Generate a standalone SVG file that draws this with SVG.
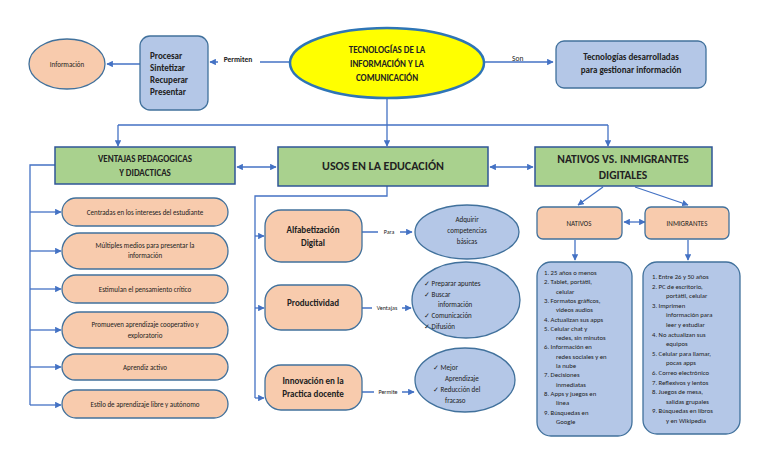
<svg xmlns="http://www.w3.org/2000/svg" width="768" height="466" viewBox="0 0 768 466">
<defs>
<marker id="a" viewBox="0 0 10 10" refX="9" refY="5" markerWidth="5" markerHeight="5" orient="auto-start-reverse"><path d="M0,0L10,5L0,10z" fill="#4472C4"/></marker>
<style>
text{font-family:Calibri,"Liberation Sans",sans-serif;fill:#222}
.c{stroke:#4472C4;stroke-width:1.3;fill:none}
.p{fill:#F8CBAD;stroke:#41719C;stroke-width:1.3}
.b{fill:#B4C7E7;stroke:#41719C;stroke-width:1.3}
.g{fill:#A9D18E;stroke:#2F5597;stroke-width:1.5}
.m{font-size:9px;font-weight:bold}
.l{font-size:7px}
.t{font-size:6.7px}
</style>
</defs>
<rect width="768" height="466" fill="#fff"/>
<g id="connectors">
<path class="c" d="M290,62H210" marker-end="url(#a)"/>
<path class="c" d="M140,64H107" marker-end="url(#a)"/>
<path class="c" d="M484,62H553" marker-end="url(#a)"/>
<path class="c" d="M387,98V125M118,125H608"/>
<path class="c" d="M118,125V146" marker-end="url(#a)"/>
<path class="c" d="M387,125V146" marker-end="url(#a)"/>
<path class="c" d="M608,125V146" marker-end="url(#a)"/>
<path class="c" d="M237,167H276" marker-start="url(#a)" marker-end="url(#a)"/>
<path class="c" d="M490,167H533" marker-start="url(#a)" marker-end="url(#a)"/>
<path class="c" d="M55,165H30V405"/>
<path class="c" d="M30,212H61" marker-end="url(#a)"/><path class="c" d="M30,251H61" marker-end="url(#a)"/><path class="c" d="M30,289H61" marker-end="url(#a)"/><path class="c" d="M30,330H61" marker-end="url(#a)"/><path class="c" d="M30,367H61" marker-end="url(#a)"/><path class="c" d="M30,405H61" marker-end="url(#a)"/>
<path class="c" d="M387,186V196H255V398"/>
<path class="c" d="M255,236H264" marker-end="url(#a)"/><path class="c" d="M255,308H264" marker-end="url(#a)"/><path class="c" d="M255,398H264" marker-end="url(#a)"/>
<path class="c" d="M362,232H412" marker-end="url(#a)"/>
<path class="c" d="M362,308H411" marker-end="url(#a)"/>
<path class="c" d="M362,392H414" marker-end="url(#a)"/>
<path class="c" d="M603,187L578,205" marker-end="url(#a)"/>
<path class="c" d="M635,187L688,205" marker-end="url(#a)"/>
<path class="c" d="M624,222H645" marker-start="url(#a)" marker-end="url(#a)"/>
<path class="c" d="M575,240V260" marker-end="url(#a)"/>
<path class="c" d="M688,240V260" marker-end="url(#a)"/>
</g>
<g id="labels">
<rect x="218" y="53" width="42" height="12" fill="#fff"/><text x="238" y="62" font-weight="bold" font-size="7.5px" text-anchor="middle">Permiten</text>
<text x="512" y="61" font-size="7.5px">Son</text>
<rect x="378" y="227" width="22" height="10" fill="#fff"/><text x="389" y="234" text-anchor="middle" font-size="6px">Para</text>
<rect x="372" y="303" width="30" height="10" fill="#fff"/><text x="387" y="310" text-anchor="middle" font-size="6px">Ventajas</text>
<rect x="374" y="387" width="28" height="10" fill="#fff"/><text x="388" y="394" text-anchor="middle" font-size="6px">Permite</text>
</g>
<g id="info"><ellipse cx="67" cy="64" rx="38" ry="25" class="p"/><text x="67" y="67" text-anchor="middle" class="l">Información</text></g>
<g id="procesar"><rect x="140" y="36" width="68" height="74" rx="10" class="b"/>
<text x="150" y="59" class="m">Procesar</text><text x="150" y="71" class="m">Sintetizar</text><text x="150" y="83" class="m">Recuperar</text><text x="150" y="95" class="m">Presentar</text></g>
<g id="tic"><ellipse cx="387" cy="63" rx="97" ry="35" fill="#FFFF00" stroke="#2E75B6" stroke-width="2.5"/>
<text x="387" y="53" text-anchor="middle" class="m" font-size="8.5px">TECNOLOGÍAS DE LA</text><text x="387" y="67" text-anchor="middle" class="m" font-size="8.5px">INFORMACIÓN Y LA</text><text x="387" y="81" text-anchor="middle" class="m" font-size="8.5px">COMUNICACIÓN</text></g>
<g id="tecdes"><rect x="556" y="41" width="150" height="47" rx="8" class="b"/>
<text x="631" y="60" text-anchor="middle" class="m">Tecnologías desarrolladas</text><text x="631" y="73" text-anchor="middle" class="m">para gestionar información</text></g>
<g id="ventajas"><rect x="55" y="147" width="180" height="37" class="g"/><text x="145" y="162" text-anchor="middle" class="m">VENTAJAS PEDAGOGICAS</text><text x="145" y="176" text-anchor="middle" class="m">Y DIDACTICAS</text></g>
<g id="usos"><rect x="278" y="147" width="210" height="39" class="g"/><text x="383" y="170" text-anchor="middle" font-size="12px" font-weight="bold">USOS EN LA EDUCACIÓN</text></g>
<g id="nativosvs"><rect x="535" y="147" width="177" height="39" class="g"/><text x="623" y="163" text-anchor="middle" font-size="11.5px" font-weight="bold">NATIVOS VS. INMIGRANTES</text><text x="623" y="179" text-anchor="middle" font-size="11.5px" font-weight="bold">DIGITALES</text></g>
<g id="v1"><rect x="62" y="198" width="166" height="28" rx="14" class="p"/><text x="145" y="215" text-anchor="middle" class="l">Centradas en los intereses del estudiante</text></g>
<g id="v2"><rect x="62" y="233" width="166" height="36" rx="18" class="p"/><text x="145" y="248" text-anchor="middle" class="l">Múltiples medios para presentar la</text><text x="145" y="258" text-anchor="middle" class="l">información</text></g>
<g id="v3"><rect x="62" y="275" width="166" height="28" rx="14" class="p"/><text x="145" y="292" text-anchor="middle" class="l">Estimulan el pensamiento crítico</text></g>
<g id="v4"><rect x="62" y="312" width="166" height="36" rx="18" class="p"/><text x="145" y="327" text-anchor="middle" class="l">Promueven aprendizaje cooperativo y</text><text x="145" y="338" text-anchor="middle" class="l">exploratorio</text></g>
<g id="v5"><rect x="62" y="354" width="166" height="26" rx="13" class="p"/><text x="145" y="370" text-anchor="middle" class="l">Aprendiz activo</text></g>
<g id="v6"><rect x="62" y="390" width="166" height="28" rx="14" class="p"/><text x="145" y="407" text-anchor="middle" class="l">Estilo de aprendizaje libre y autónomo</text></g>
<g id="alfa"><rect x="265" y="210" width="97" height="52" rx="16" class="p"/><text x="313" y="233" text-anchor="middle" class="m">Alfabetización</text><text x="313" y="246" text-anchor="middle" class="m">Digital</text></g>
<g id="prod"><rect x="265" y="285" width="97" height="45" rx="16" class="p"/><text x="313" y="306" text-anchor="middle" class="m">Productividad</text></g>
<g id="innov"><rect x="265" y="365" width="97" height="45" rx="16" class="p"/><text x="313" y="384" text-anchor="middle" class="m">Innovación en la</text><text x="313" y="397" text-anchor="middle" class="m">Practica docente</text></g>
<g id="adq"><ellipse cx="467" cy="232" rx="52" ry="27" class="b"/><text x="467" y="222" text-anchor="middle" class="l">Adquirir</text><text x="467" y="233" text-anchor="middle" class="l">competencias</text><text x="467" y="244" text-anchor="middle" class="l">básicas</text></g>
<g id="prep"><ellipse cx="466" cy="300" rx="54" ry="38" class="b"/>
<text x="424" y="286" class="l">✓   Preparar apuntes</text><text x="424" y="297" class="l">✓   Buscar</text><text x="438" y="307" class="l">información</text><text x="424" y="318" class="l">✓   Comunicación</text><text x="424" y="329" class="l">✓   Difusión</text></g>
<g id="mejor"><ellipse cx="465" cy="380" rx="50" ry="32" class="b"/>
<text x="433" y="370" class="l">✓  Mejor</text><text x="445" y="381" class="l">Aprendizaje</text><text x="433" y="392" class="l">✓  Reducción del</text><text x="445" y="403" class="l">fracaso</text></g>
<g id="nativos"><rect x="537" y="207" width="85" height="32" rx="6" class="p"/><text x="579" y="226" text-anchor="middle" class="l">NATIVOS</text></g>
<g id="inmig"><rect x="645" y="207" width="84" height="32" rx="6" class="p"/><text x="687" y="226" text-anchor="middle" class="l">INMIGRANTES</text></g>
<g id="nlist" class="t"><rect x="537" y="262" width="95" height="174" rx="14" class="b"/>
<text x="544" y="275">1.  25 años o menos</text><text x="544" y="284.3">2.  Tablet, portátil,</text><text x="556" y="293.6">celular</text><text x="544" y="302.9">3.  Formatos gráficos,</text><text x="556" y="312.2">videos audios</text><text x="544" y="321.5">4.  Actualizan sus apps</text><text x="544" y="330.8">5.  Celular chat y</text><text x="556" y="340.1">redes, sin minutos</text><text x="544" y="349.4">6.  Información en</text><text x="556" y="358.7">redes sociales y en</text><text x="556" y="368">la nube</text><text x="544" y="377.3">7.  Decisiones</text><text x="556" y="386.6">inmediatas</text><text x="544" y="395.9">8.  Apps y juegos en</text><text x="556" y="405.2">línea</text><text x="544" y="414.5">9.  Búsquedas en</text><text x="556" y="423.8">Google</text></g>
<g id="ilist" class="t"><rect x="643" y="262" width="97" height="172" rx="14" class="b"/>
<text x="652" y="279">1.   Entre 26 y 50 años</text><text x="652" y="288.6">2.   PC de escritorio,</text><text x="666" y="298.2">portátil, celular</text><text x="652" y="307.8">3.   Imprimen</text><text x="666" y="317.4">información para</text><text x="666" y="327">leer y estudiar</text><text x="652" y="336.6">4.   No actualizan sus</text><text x="666" y="346.2">equipos</text><text x="652" y="355.8">5.   Celular para llamar,</text><text x="666" y="365.4">pocas apps</text><text x="652" y="375">6.   Correo electrónico</text><text x="652" y="384.6">7.   Reflexivos y lentos</text><text x="652" y="394.2">8.   Juegos de mesa,</text><text x="666" y="403.8">salidas grupales</text><text x="652" y="413.4">9.   Búsquedas en libros</text><text x="666" y="423">y en Wikipedia</text></g>
</svg>
